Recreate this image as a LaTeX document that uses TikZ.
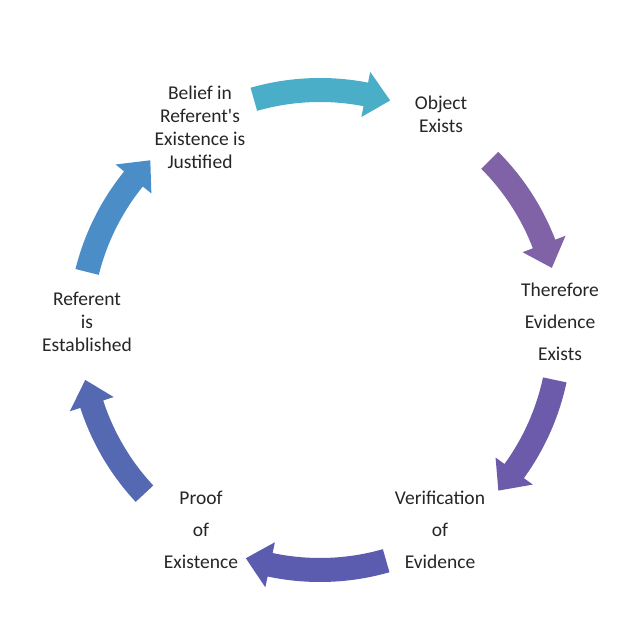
\documentclass[tikz,border=0pt]{standalone}
\usepackage{fontspec}
\setmainfont{Carlito}
\begin{document}
\begin{tikzpicture}[x=1pt,y=1pt,
  lbl/.style={align=center,font=\fontsize{19.5}{23}\selectfont,text=black!85},
  lbl2/.style={align=center,font=\fontsize{19.5}{32}\selectfont,text=black!85}]
\useasboundingbox[fill=white] (0,0) rectangle (640,640);
\def\R{240}\def\w{12}\def\h{23}\def\d{6}
\newcommand{\carrow}[3]{%
  \fill[#3,shift={(320,310)}] (#1:\R+\w) arc[start angle=#1,end angle=#2+\d,radius=\R+\w]
   -- (#2+\d:\R+\h) -- (#2:\R) -- (#2+\d:\R-\h) -- (#2+\d:\R-\w)
   arc[start angle=#2+\d,end angle=#1,radius=\R-\w] -- cycle;}
\definecolor{c1}{HTML}{4BAEC8}
\definecolor{c2}{HTML}{8062A6}
\definecolor{c3}{HTML}{6C5BAA}
\definecolor{c4}{HTML}{5B5CAF}
\definecolor{c5}{HTML}{5568B2}
\definecolor{c6}{HTML}{4A8DC7}
\carrow{106}{73}{c1}
\carrow{45}{15}{c2}
\carrow{-12}{-42}{c3}
\carrow{-74}{-108}{c4}
\carrow{-137}{-168}{c5}
\carrow{166}{135}{c6}
\node[lbl] (a) at (200,513) {Belief in\\Referent\textquotesingle s\\Existence is\\Justified};
\node[lbl] (b) at (441,526) {Object\\Exists};
\node[lbl2] (c) at (560,318) {Therefore\\Evidence\\Exists};
\node[lbl2] (d) at (440,110) {Verification\\of\\Evidence};
\node[lbl2] (e) at (201,110) {Proof\\of\\Existence};
\node[lbl] (f) at (87,318) {Referent\\is\\Established};
\end{tikzpicture}
\end{document}
